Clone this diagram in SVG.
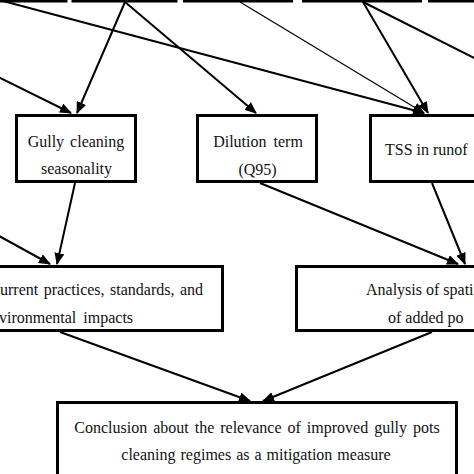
<svg xmlns="http://www.w3.org/2000/svg" width="474" height="474" viewBox="0 0 474 474">
<defs>
<style>
.box{fill:#fff;stroke:#000;stroke-width:3}
.t{font-family:"Liberation Serif","Times New Roman",serif;font-size:16px;fill:#111}
.c{text-anchor:middle}
.e{fill:none;stroke:#000;stroke-width:2}
.thin{stroke-width:1.2}
</style>
<marker id="ah" viewBox="0 0 12 10" refX="11" refY="5" markerWidth="12" markerHeight="10" markerUnits="userSpaceOnUse" orient="auto">
<path d="M0,0 L12,5 L0,10 z" fill="#000"/>
</marker>
</defs>
<rect width="474" height="474" fill="#fff"/>
<g id="connectors">
<line class="e" x1="3" y1="1" x2="424" y2="113" marker-end="url(#ah)"/>
<line class="e" x1="125" y1="2" x2="77" y2="113" marker-end="url(#ah)"/>
<line class="e" x1="125" y1="2" x2="256" y2="113" marker-end="url(#ah)"/>
<line class="e thin" x1="240" y1="2" x2="424" y2="113" marker-end="url(#ah)"/>
<line class="e" x1="363" y1="2" x2="428" y2="113" marker-end="url(#ah)"/>
<line class="e" x1="363" y1="2" x2="520" y2="81"/>
<line class="e" x1="-10" y1="73" x2="71" y2="113" marker-end="url(#ah)"/>
<line class="e" x1="75" y1="183" x2="57" y2="264" marker-end="url(#ah)"/>
<line class="e" x1="-10" y1="231" x2="50" y2="264" marker-end="url(#ah)"/>
<line class="e" x1="260" y1="183" x2="458" y2="264" marker-end="url(#ah)"/>
<line class="e" x1="432" y1="183" x2="465" y2="264" marker-end="url(#ah)"/>
<line class="e" x1="60" y1="332" x2="250" y2="401" marker-end="url(#ah)"/>
<line class="e" x1="432" y1="332" x2="263" y2="401" marker-end="url(#ah)"/>
</g>
<g id="top1"><rect class="box" x="-10" y="-40" width="76" height="41"/></g>
<g id="top2"><rect class="box" x="73" y="-40" width="103" height="41"/></g>
<g id="top3"><rect class="box" x="184.5" y="-40" width="107" height="41"/></g>
<g id="top4"><rect class="box" x="303.5" y="-40" width="117" height="41"/></g>
<g id="top5"><rect class="box" x="429.5" y="-40" width="100" height="41"/></g>
<g id="gully">
<rect class="box" x="16.5" y="115.5" width="119" height="66"/>
<text class="t c" x="76" y="147" word-spacing="2">Gully cleaning</text>
<text class="t c" x="76.5" y="174">seasonality</text>
</g>
<g id="dilution">
<rect class="box" x="197.5" y="115.5" width="119" height="66"/>
<text class="t c" x="258" y="147" word-spacing="3">Dilution term</text>
<text class="t c" x="257.5" y="175">(Q95)</text>
</g>
<g id="tss">
<rect class="box" x="370.5" y="115.5" width="150" height="66"/>
<text class="t" x="385" y="155">TSS in runof</text>
</g>
<g id="current">
<rect class="box" x="-30" y="266.5" width="252.5" height="64"/>
<text class="t" x="0" y="295" word-spacing="1.5">urrent practices, standards, and</text>
<text class="t" x="-1" y="323" word-spacing="3">vironmental impacts</text>
</g>
<g id="analysis">
<rect class="box" x="296.5" y="266.5" width="250" height="64"/>
<text class="t" x="366" y="295" font-size="15.5">Analysis of spati</text>
<text class="t" x="388" y="323">of added po</text>
</g>
<g id="conclusion">
<rect class="box" x="57.5" y="402.5" width="399" height="80"/>
<text class="t c" x="257" y="433" word-spacing="2">Conclusion about the relevance of improved gully pots</text>
<text class="t c" x="256" y="460" word-spacing="1">cleaning regimes as a mitigation measure</text>
</g>
</svg>
